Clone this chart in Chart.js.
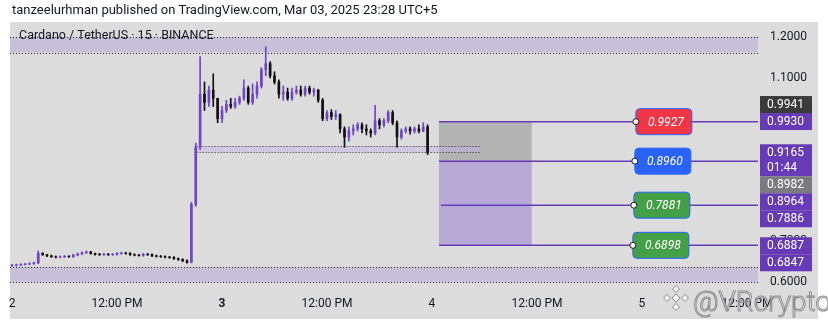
<!DOCTYPE html>
<html>
<head>
<meta charset="utf-8">
<script src="https://cdn.jsdelivr.net/npm/chart.js@4.4.1/dist/chart.umd.min.js"></script>
<style>
  html, body { margin: 0; padding: 0; background: #fff; }
  #wrap { position: relative; width: 828px; height: 325px; overflow: hidden; }
  #wrap canvas { position: absolute; left: 0; top: 0; }
  #credit {
    position: absolute; left: 12px; top: 2px;
    font: 13px Roboto, sans-serif; color: #131722; white-space: nowrap;
  }
</style>
</head>
<body>
<div id="wrap">
  <canvas id="chart" width="828" height="325"></canvas>
  <div id="credit">tanzeelurhman published on TradingView.com, Mar 03, 2025 23:28 UTC+5</div>
</div>
<script>
// ADA/USDT, 30 min candles, x axis = hours since Mar 2 00:00
const firstHour = 0;
const candleStep = 0.5;

const opens = [
  0.640, 0.641, 0.642, 0.643, 0.644, 0.645, 0.647, 0.670, 0.667, 0.664,
  0.662, 0.661, 0.662, 0.663, 0.662, 0.666, 0.669, 0.672, 0.674, 0.670,
  0.668, 0.667, 0.668, 0.667, 0.668, 0.670, 0.671, 0.670, 0.667, 0.666,
  0.665, 0.668, 0.667, 0.664, 0.663, 0.662, 0.661, 0.660, 0.657, 0.655,
  0.652, 0.648, 0.790, 0.930, 1.060, 1.040, 1.070, 1.050, 1.000, 1.020,
  1.035, 1.030, 1.040, 1.050, 1.075, 1.040, 1.060, 1.080, 1.120, 1.135,
  1.105, 1.090, 1.060, 1.065, 1.050, 1.065, 1.070, 1.060, 1.075, 1.065,
  1.070, 1.045, 1.000, 1.015, 1.005, 1.010, 0.975, 0.955, 0.970, 0.975,
  0.985, 0.975, 0.970, 0.965, 0.995, 0.985, 0.995, 1.015, 0.990, 0.955,
  0.970, 0.975, 0.970, 0.975, 0.970, 0.980
];
const highs = [
  0.643, 0.644, 0.645, 0.646, 0.647, 0.649, 0.676, 0.672, 0.668, 0.666,
  0.664, 0.664, 0.665, 0.665, 0.668, 0.671, 0.674, 0.676, 0.675, 0.671,
  0.670, 0.670, 0.670, 0.670, 0.672, 0.673, 0.673, 0.672, 0.669, 0.668,
  0.670, 0.670, 0.669, 0.666, 0.665, 0.664, 0.663, 0.662, 0.659, 0.657,
  0.654, 0.795, 0.940, 1.152, 1.090, 1.080, 1.110, 1.050, 1.030, 1.045,
  1.050, 1.050, 1.055, 1.095, 1.080, 1.085, 1.090, 1.125, 1.176, 1.140,
  1.115, 1.095, 1.080, 1.075, 1.075, 1.080, 1.080, 1.080, 1.080, 1.075,
  1.072, 1.050, 1.020, 1.022, 1.020, 1.012, 0.980, 0.980, 0.985, 0.990,
  0.990, 0.985, 0.975, 1.033, 1.000, 1.000, 1.020, 1.020, 0.995, 0.975,
  0.980, 0.980, 0.980, 0.985, 0.990, 0.985
];
const lows = [
  0.638, 0.639, 0.640, 0.641, 0.642, 0.643, 0.645, 0.665, 0.662, 0.660,
  0.659, 0.659, 0.660, 0.660, 0.660, 0.664, 0.667, 0.670, 0.668, 0.666,
  0.665, 0.665, 0.665, 0.665, 0.666, 0.668, 0.668, 0.665, 0.664, 0.663,
  0.663, 0.665, 0.662, 0.661, 0.660, 0.659, 0.658, 0.655, 0.653, 0.650,
  0.646, 0.647, 0.785, 0.925, 1.020, 1.030, 1.030, 0.990, 0.990, 1.015,
  1.025, 1.025, 1.035, 1.045, 1.035, 1.035, 1.050, 1.075, 1.105, 1.100,
  1.085, 1.050, 1.045, 1.045, 1.045, 1.060, 1.055, 1.055, 1.060, 1.055,
  1.040, 0.995, 0.995, 0.998, 0.998, 0.965, 0.930, 0.945, 0.960, 0.970,
  0.965, 0.960, 0.955, 0.960, 0.975, 0.980, 0.990, 0.985, 0.930, 0.950,
  0.965, 0.962, 0.965, 0.965, 0.968, 0.912
];
const closes = [
  0.641, 0.642, 0.643, 0.644, 0.645, 0.647, 0.670, 0.667, 0.664, 0.662,
  0.661, 0.662, 0.663, 0.662, 0.666, 0.669, 0.672, 0.674, 0.670, 0.668,
  0.667, 0.668, 0.667, 0.668, 0.670, 0.671, 0.670, 0.667, 0.666, 0.665,
  0.668, 0.667, 0.664, 0.663, 0.662, 0.661, 0.660, 0.657, 0.655, 0.652,
  0.648, 0.790, 0.930, 1.060, 1.040, 1.070, 1.050, 1.000, 1.020, 1.035,
  1.030, 1.040, 1.050, 1.075, 1.040, 1.060, 1.080, 1.120, 1.135, 1.105,
  1.090, 1.060, 1.065, 1.050, 1.065, 1.070, 1.060, 1.075, 1.065, 1.070,
  1.045, 1.000, 1.015, 1.005, 1.010, 0.975, 0.955, 0.970, 0.975, 0.985,
  0.975, 0.970, 0.965, 0.995, 0.985, 0.995, 1.015, 0.990, 0.955, 0.970,
  0.975, 0.970, 0.975, 0.970, 0.980, 0.9165
];

// axis ticks
const timeTicks = [0, 12, 24, 36, 48, 60, 72, 84];
const timeTickLabels = ["2", "12:00 PM", "3", "12:00 PM", "4", "12:00 PM", "5", "12:00 PM"];
const priceTicks = [0.6, 0.7, 0.8, 0.9, 1.0, 1.1, 1.2];

// drawings
const topZone = [1.162, 1.2];
const bottomZone = [0.6, 0.637];
const midZone = [0.918, 0.933];
const midZoneHours = [21.1, 53.5];
const positionHours = [48.8, 59.4];
const levelPrices = [0.9927, 0.8960, 0.7881, 0.6898];
const levelColors = ["#f23645", "#2962ff", "#43a047", "#43a047"];
const levelLabelHour = 74.5;

// price tags on the right axis
const tagPrices = [0.9930, 0.9941, 0.9165, 0.8982, 0.8964, 0.7886, 0.6887, 0.6847];
const tagColors = ["#673ab7", "#3b3b3b", "#673ab7", "#7a7a80", "#673ab7", "#673ab7", "#673ab7", "#673ab7"];
const lastPriceIdx = 2;
const countdown = "01:44";

const UP = "#6f45cc";
const DOWN = "#111111";
const DARK_TAG = "#3b3b3b";

const candleTimes = opens.map((_, i) => firstHour + i * candleStep);
const wickData = candleTimes.map((t, i) => ({ x: t, y: [lows[i], highs[i]] }));
const bodyData = candleTimes.map((t, i) => ({ x: t, y: [opens[i], closes[i]] }));
const candleColor = (c) => (closes[c.dataIndex] >= opens[c.dataIndex] ? UP : DOWN);

function dottedLine(ctx, x1, x2, y, color) {
  ctx.save();
  ctx.strokeStyle = color || "#2a2a2a";
  ctx.lineWidth = 1;
  ctx.setLineDash([1, 2]);
  ctx.beginPath();
  ctx.moveTo(x1, Math.round(y) + 0.5);
  ctx.lineTo(x2, Math.round(y) + 0.5);
  ctx.stroke();
  ctx.restore();
}

function roundRect(ctx, x, y, w, h, r) {
  ctx.beginPath();
  ctx.moveTo(x + r, y);
  ctx.arcTo(x + w, y, x + w, y + h, r);
  ctx.arcTo(x + w, y + h, x, y + h, r);
  ctx.arcTo(x, y + h, x, y, r);
  ctx.arcTo(x, y, x + w, y, r);
  ctx.closePath();
}

function layoutTags(yScale) {
  const H = 17;
  const boxes = [];
  let bottom = -Infinity;
  tagPrices.forEach((p, i) => {
    if (tagColors[i] === DARK_TAG) return;
    const top = Math.max(yScale.getPixelForValue(p) - H / 2, bottom);
    const h = i === lastPriceIdx ? 32 : H;
    boxes.push({ i, top, h });
    bottom = top + h;
  });
  // dark tags get pushed above whatever they run into
  tagPrices.forEach((p, i) => {
    if (tagColors[i] !== DARK_TAG) return;
    let top = yScale.getPixelForValue(p) - H / 2;
    boxes.forEach((b) => {
      if (top < b.top + b.h && top + H > b.top) top = b.top - H;
    });
    boxes.push({ i, top, h: H });
  });
  return boxes;
}

const tvPlugin = {
  id: "tvDrawings",
  beforeDraw(chart) {
    const { ctx, chartArea: a, scales: { y } } = chart;
    ctx.save();
    ctx.fillStyle = "#ffffff";
    ctx.fillRect(0, 0, chart.width, chart.height);
    ctx.fillStyle = "#dcdcdc";
    ctx.fillRect(10, 22, 808, 297);

    // top and bottom zones
    [topZone, bottomZone].forEach((z) => {
      const y1 = y.getPixelForValue(z[1]);
      const y2 = y.getPixelForValue(z[0]);
      ctx.fillStyle = "#c8c0d9";
      ctx.fillRect(a.left, y1, a.right - a.left, y2 - y1);
      dottedLine(ctx, a.left, a.right, y1);
      dottedLine(ctx, a.left, a.right, y2);
    });
    ctx.restore();
  },
  beforeDatasetsDraw(chart) {
    const { ctx, chartArea: a, scales: { x, y } } = chart;
    ctx.save();
    const px1 = x.getPixelForValue(positionHours[0]);
    const px2 = x.getPixelForValue(positionHours[1]);
    const yTop = y.getPixelForValue(levelPrices[0]);
    const yEntry = y.getPixelForValue(levelPrices[1]);
    const yStop = y.getPixelForValue(levelPrices[3]);
    ctx.fillStyle = "#b3b3b3";
    ctx.fillRect(px1, yTop, px2 - px1, yEntry - yTop);
    ctx.fillStyle = "#b6a9d6";
    ctx.fillRect(px1, yEntry, px2 - px1, yStop - yEntry);
    dottedLine(ctx, px1, px2, yStop, "#7b5fc8");

    // middle zone
    const mx1 = x.getPixelForValue(midZoneHours[0]);
    const mx2 = x.getPixelForValue(midZoneHours[1]);
    const my1 = y.getPixelForValue(midZone[1]);
    const my2 = y.getPixelForValue(midZone[0]);
    ctx.fillStyle = "rgba(190,176,226,0.45)";
    ctx.fillRect(mx1, my1, mx2 - mx1, my2 - my1);
    dottedLine(ctx, mx1, mx2, my1);
    dottedLine(ctx, mx1, mx2, my2);

    // level lines
    ctx.strokeStyle = "#673ab7";
    ctx.lineWidth = 1.5;
    levelPrices.forEach((p, i) => {
      const ly = y.getPixelForValue(p);
      ctx.beginPath();
      ctx.moveTo(px1 + (i === 2 ? 2 : 0), ly);
      ctx.lineTo(a.right, ly);
      ctx.stroke();
    });
    ctx.restore();
  },
  afterDraw(chart) {
    const { ctx, chartArea: a, scales: { x, y } } = chart;
    ctx.save();

    // level labels
    const cx = x.getPixelForValue(levelLabelHour);
    levelPrices.forEach((p, i) => {
      const ly = y.getPixelForValue(p);
      const w = 56, h = 26;
      const bx = cx - w / 2 - i * 1;
      roundRect(ctx, bx, ly - h / 2, w, h, 4);
      ctx.fillStyle = levelColors[i];
      ctx.fill();
      ctx.strokeStyle = "#2962ff";
      ctx.lineWidth = 1;
      ctx.stroke();
      ctx.fillStyle = "#ffffff";
      ctx.font = "italic 12px Roboto";
      ctx.textAlign = "center";
      ctx.textBaseline = "middle";
      ctx.fillText(p.toFixed(4), bx + w / 2 + 2, ly + 1);
      ctx.beginPath();
      ctx.arc(bx, ly, 3, 0, Math.PI * 2);
      ctx.fillStyle = "#ffffff";
      ctx.fill();
      ctx.strokeStyle = "#131722";
      ctx.stroke();
    });

    // price tags
    const tx = a.right + 2;
    layoutTags(y).forEach((b) => {
      ctx.fillStyle = tagColors[b.i];
      ctx.fillRect(tx, b.top, 52, b.h);
      ctx.fillStyle = "#ffffff";
      ctx.font = "12px Roboto";
      ctx.textAlign = "left";
      ctx.textBaseline = "middle";
      ctx.fillText(tagPrices[b.i].toFixed(4), tx + 7, b.top + 8.5);
      if (b.i === lastPriceIdx) ctx.fillText(countdown, tx + 7, b.top + 24);
    });

    // symbol title
    ctx.fillStyle = "#131722";
    ctx.font = "12.5px Roboto";
    ctx.textAlign = "left";
    ctx.textBaseline = "middle";
    ctx.fillText("Cardano / TetherUS \u00b7 15 \u00b7 BINANCE", 19, 36);

    // watermark
    const ix = 676, iy = 298;
    ctx.strokeStyle = "rgba(130,130,130,0.9)";
    ctx.fillStyle = "rgba(255,255,255,0.7)";
    ctx.lineWidth = 1;
    const diamond = (dx, dy, r) => {
      ctx.beginPath();
      ctx.moveTo(dx, dy - r);
      ctx.lineTo(dx + r, dy);
      ctx.lineTo(dx, dy + r);
      ctx.lineTo(dx - r, dy);
      ctx.closePath();
      ctx.fill();
      ctx.stroke();
    };
    diamond(ix, iy, 4);
    diamond(ix, iy - 9, 3.5);
    diamond(ix, iy + 9, 3.5);
    diamond(ix - 9, iy, 3.5);
    diamond(ix + 9, iy, 3.5);
    ctx.font = "300 28px Roboto";
    ctx.textAlign = "left";
    ctx.textBaseline = "alphabetic";
    ctx.fillText("@VRcrypto", 693, 311);
    ctx.strokeText("@VRcrypto", 693, 311);
    ctx.restore();
  }
};

new Chart(document.getElementById("chart"), {
  type: "bar",
  data: {
    datasets: [
      {
        label: "wick",
        data: wickData,
        backgroundColor: candleColor,
        barThickness: 1,
        grouped: false,
        borderWidth: 0,
        borderSkipped: false
      },
      {
        label: "body",
        data: bodyData,
        backgroundColor: candleColor,
        barThickness: 2,
        grouped: false,
        borderWidth: 0,
        borderSkipped: false
      }
    ]
  },
  options: {
    responsive: false,
    animation: false,
    devicePixelRatio: 1,
    layout: { padding: { left: 10, right: 10, top: 22, bottom: 6 } },
    plugins: { legend: { display: false }, tooltip: { enabled: false } },
    scales: {
      x: {
        type: "linear",
        min: -0.23,
        max: 85.26,
        offset: false,
        grid: { display: false, drawTicks: false },
        border: { display: false },
        afterBuildTicks: (s) => { s.ticks = timeTicks.map((v) => ({ value: v })); },
        afterFit: (s) => { s.height = 27; },
        ticks: {
          autoSkip: false,
          maxRotation: 0,
          padding: 5,
          color: "#131722",
          font: (c) => ({ family: "Roboto", size: 12, weight: c.tick && c.tick.value === 24 ? "bold" : "normal" }),
          callback: (v, i) => timeTickLabels[i]
        }
      },
      y: {
        type: "linear",
        position: "right",
        min: 0.5755,
        max: 1.2368,
        grid: { display: false, drawTicks: false },
        border: { display: false },
        afterBuildTicks: (s) => { s.ticks = priceTicks.map((v) => ({ value: v })); },
        afterFit: (s) => { s.width = 60; },
        ticks: {
          padding: 12,
          color: "#131722",
          font: { family: "Roboto", size: 12 },
          callback: (v) => Number(v).toFixed(4)
        }
      }
    }
  },
  plugins: [tvPlugin]
});
</script>
</body>
</html>
